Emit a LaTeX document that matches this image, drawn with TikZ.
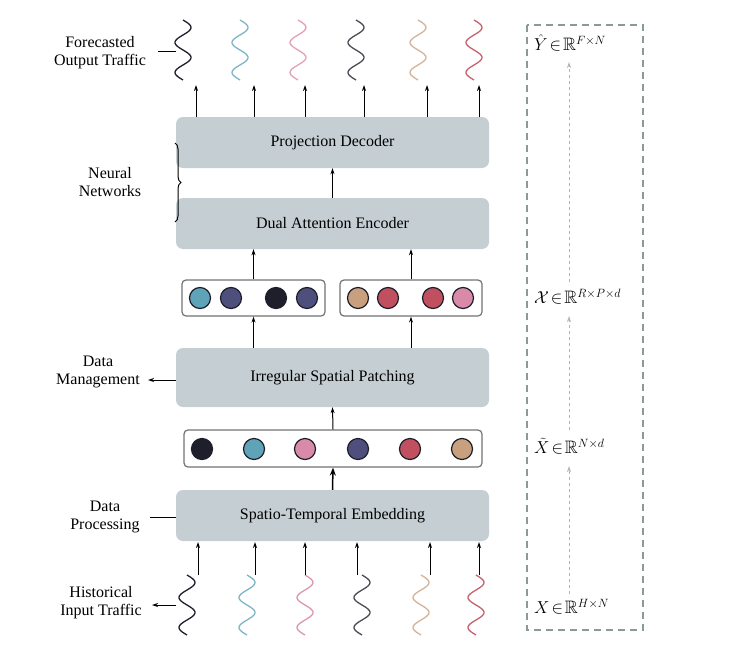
\documentclass[tikz,border=0pt]{standalone}
\usepackage{amssymb}
\usepackage{fontspec}
\setmainfont{Liberation Serif}
\usetikzlibrary{decorations.pathreplacing,arrows.meta}
\definecolor{boxc}{HTML}{C5CFD3}
\definecolor{cdark}{HTML}{1E1F2B}
\definecolor{cteal}{HTML}{5FA3B8}
\definecolor{cpink}{HTML}{D98AA8}
\definecolor{cpurp}{HTML}{4F4F7D}
\definecolor{cred}{HTML}{C05060}
\definecolor{ctan}{HTML}{C9A07E}
\definecolor{dashc}{HTML}{8A9A9A}
\newcommand{\wave}[4]{\draw[#3,line width=1.3pt] plot[domain=0:60,samples=50,smooth] ({#1+8*sin(\x*12)},{#2+\x});\coordinate (#4) at (#1,#2);}
\begin{document}
\begin{tikzpicture}[x=1pt,y=-1pt,font=\fontsize{16}{18}\selectfont,
 blk/.style={fill=boxc,rounded corners=7pt,minimum width=313pt,inner sep=0},
 patch/.style={draw=gray!90!black,line width=1.2pt,rounded corners=4pt,fill=white},
 dot/.style={circle,draw=cdark,line width=1.2pt,minimum size=21pt,inner sep=0},
 arr/.style={-{Stealth[length=6pt,width=4pt]},line width=1pt},
 darr/.style={-{Stealth[length=6pt,width=4pt]},dashc!70,dashed,line width=1pt},
 lbl/.style={align=center},
 mth/.style={anchor=west,inner sep=1pt,font=\fontsize{18}{20}\selectfont}]
\useasboundingbox (0,0) rectangle (733,661);
% blocks
\node[blk,minimum height=51pt] (pd) at (332.5,142.5) {Projection Decoder};
\node[blk,minimum height=51pt] (dae) at (332.5,223.5) {Dual Attention Encoder};
\node[blk,minimum height=59pt] (isp) at (332.5,377.5) {Irregular Spatial Patching};
\node[blk,minimum height=51pt] (ste) at (332.5,515.5) {Spatio-Temporal Embedding};
% patch boxes
\node[patch,minimum width=143pt,minimum height=36pt] (pl) at (253.5,298) {};
\node[patch,minimum width=142pt,minimum height=36pt] (pr) at (411,298) {};
\node[patch,minimum width=298pt,minimum height=37pt] (row) at (333,448.5) {};
\node[dot,fill=cteal] (a1) at (200,298) {};
\node[dot,fill=cpurp] (a2) at (231,298) {};
\node[dot,fill=cdark] (a3) at (276,298) {};
\node[dot,fill=cpurp] (a4) at (307,298) {};
\node[dot,fill=ctan] (b1) at (358,298) {};
\node[dot,fill=cred] (b2) at (388,298) {};
\node[dot,fill=cred] (b3) at (433,298) {};
\node[dot,fill=cpink] (b4) at (463,298) {};
\node[dot,fill=cdark] (c1) at (202,449) {};
\node[dot,fill=cteal] (c2) at (254,449) {};
\node[dot,fill=cpink] (c3) at (305,449) {};
\node[dot,fill=cpurp] (c4) at (358,449) {};
\node[dot,fill=cred] (c5) at (410,449) {};
\node[dot,fill=ctan] (c6) at (462,449) {};
% waves
\wave{183}{20}{cdark}{t1}
\wave{240}{20}{cteal!80}{t2}
\wave{298}{20}{cpink!80}{t3}
\wave{356}{20}{cdark!80}{t4}
\wave{418}{20}{ctan!80}{t5}
\wave{474}{20}{cred!90}{t6}
\wave{187}{575}{cdark}{w1}
\wave{247}{575}{cteal!80}{w2}
\wave{305}{575}{cpink!90}{w3}
\wave{362}{575}{cdark!80}{w4}
\wave{421}{575}{ctan!80}{w5}
\wave{476}{575}{cred!90}{w6}
% arrows
\foreach \x in {196,254,305,364,427,479}{\draw[arr] (\x,117) -- (\x,85);}
\foreach \x in {198,255,305,357,430,479}{\draw[arr] (\x,575) -- (\x,542);}
\draw[arr] (dae.north) -- (pd.south);
\draw[arr] (pl.north) -- (pl.north|-dae.south);
\draw[arr] (pr.north) -- (pr.north|-dae.south);
\draw[arr] (pl.north|-isp.north) -- (pl.south);
\draw[arr] (pr.north|-isp.north) -- (pr.south);
\draw[arr] (row.north) -- (isp.south);
\draw[-{Stealth[length=8pt,width=6pt]},line width=1.5pt] (ste.north) -- (row.south);
% left labels
\node[lbl] (fo) at (100,53) {Forecasted\\Output Traffic};
\draw[line width=1pt] (158,52) -- (176,52);
\draw[decorate,decoration={brace,amplitude=6pt},line width=1pt] (175,143) -- (175,222);
\node[lbl] (nn) at (110,182) {Neural\\Networks};
\node[lbl] (dm) at (98,372) {Data\\Management};
\draw[arr] (176,380) -- (148,380);
\node[lbl] (dp) at (105,517) {Data\\Processing};
\draw[line width=1pt] (176,517) -- (150,517);
\node[lbl] (hi) at (101,603) {Historical\\Input Traffic};
\draw[arr] (176,605) -- (152,605);
% right panel
\draw[dashc,line width=1.5pt,dash pattern=on 7pt off 5pt] (527,25) rectangle (643,630);
\node[mth] (y) at (533,43) {$\hat{Y}\!\in\!\mathbb{R}^{F\times N}$};
\node[mth] (cx) at (533,297) {$\mathcal{X}\!\in\!\mathbb{R}^{R\times P\times d}$};
\node[mth] (xt) at (533,446) {$\tilde{X}\!\in\!\mathbb{R}^{N\times d}$};
\node[mth] (x) at (533,607) {$X\!\in\!\mathbb{R}^{H\times N}$};
\draw[darr] (569,594) -- (569,466);
\draw[darr] (569,430) -- (569,316);
\draw[darr] (569,282) -- (569,62);
\end{tikzpicture}
\end{document}
